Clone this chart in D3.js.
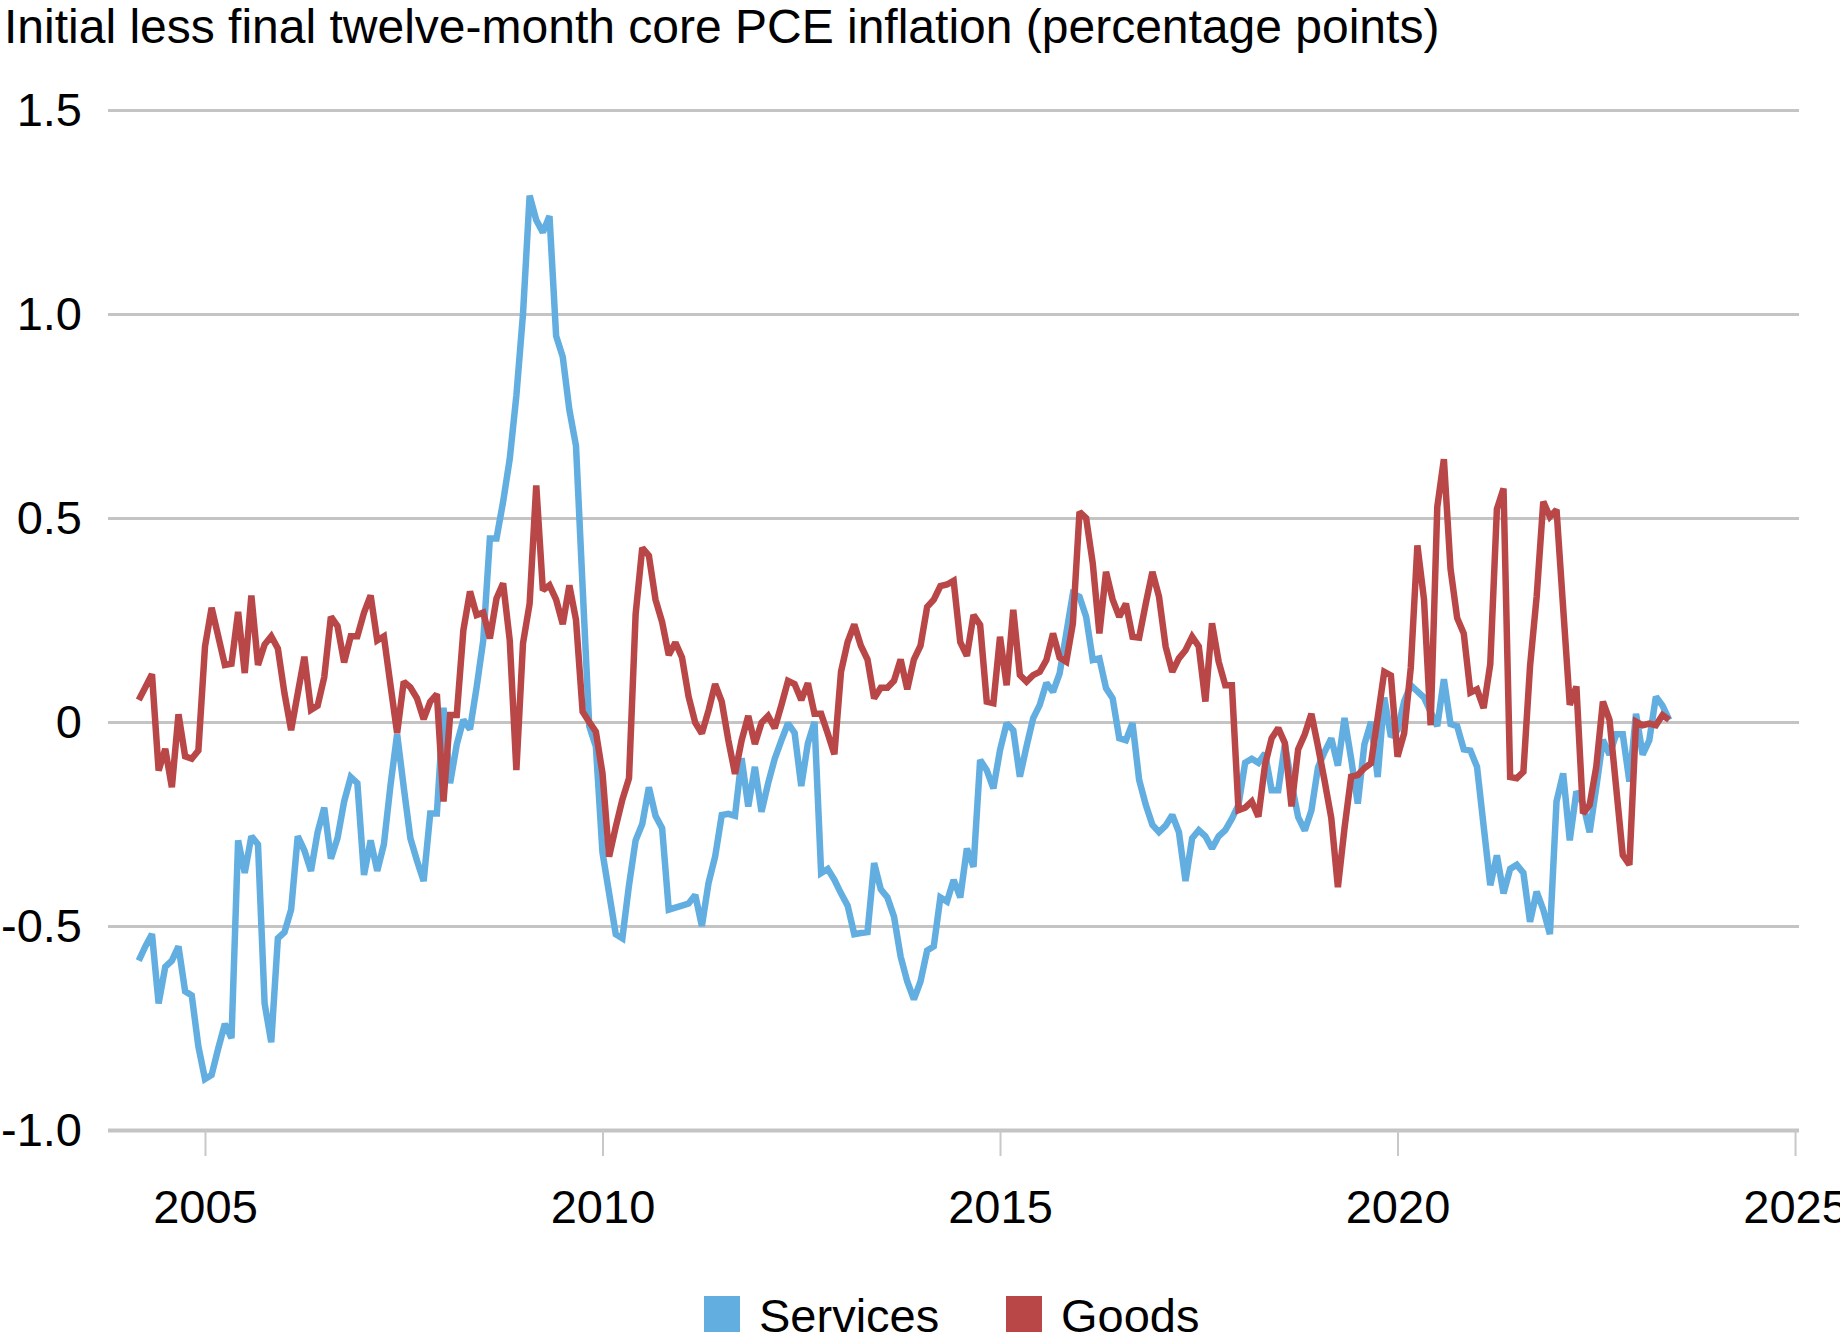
<!DOCTYPE html>
<html>
<head>
<meta charset="utf-8">
<script src="https://cdn.jsdelivr.net/npm/d3@7"></script>
<style>
  body { margin: 0; background: #fff; }
  svg { display: block; font-family: "Liberation Sans", Arial, sans-serif; }
</style>
</head>
<body>
<div id="chart"></div>
<script>
// monthly observations, first one is March 2004
const startYear = 2004;
const startMonth = 3;

const services = [
  -0.585, -0.55, -0.52, -0.69, -0.60, -0.585, -0.55, -0.66, -0.67, -0.795, -0.875, -0.865,
  -0.80, -0.74, -0.775, -0.29, -0.37, -0.28, -0.30, -0.69, -0.785, -0.53, -0.515, -0.46,
  -0.28, -0.315, -0.365, -0.27, -0.21, -0.335, -0.285, -0.195, -0.135, -0.15, -0.375, -0.29,
  -0.365, -0.30, -0.155, -0.03, -0.16, -0.285, -0.34, -0.39, -0.224, -0.224, 0.035, -0.15,
  -0.055, 0.005, -0.018, 0.085, 0.20, 0.45, 0.45, 0.54, 0.645, 0.80, 1.0, 1.29,
  1.23, 1.20, 1.24, 0.946, 0.895, 0.765, 0.677, 0.33, -0.01, -0.06, -0.32, -0.42,
  -0.52, -0.53, -0.40, -0.29, -0.25, -0.16, -0.23, -0.26, -0.46, -0.455, -0.45, -0.445,
  -0.424, -0.50, -0.395, -0.33, -0.228, -0.225, -0.23, -0.089, -0.207, -0.11, -0.22, -0.15,
  -0.09, -0.045, -0.003, -0.027, -0.157, -0.052, 0.0, -0.37, -0.36, -0.387, -0.42, -0.45,
  -0.52, -0.517, -0.515, -0.346, -0.41, -0.43, -0.477, -0.575, -0.636, -0.68, -0.636, -0.56,
  -0.55, -0.43, -0.44, -0.387, -0.43, -0.31, -0.355, -0.093, -0.118, -0.163, -0.069, -0.003,
  -0.02, -0.134, -0.06, 0.009, 0.042, 0.096, 0.074, 0.119, 0.217, 0.315, 0.307, 0.258,
  0.152, 0.156, 0.083, 0.058, -0.04, -0.045, -0.003, -0.142, -0.203, -0.252, -0.27, -0.254,
  -0.228, -0.27, -0.39, -0.285, -0.265, -0.28, -0.31, -0.28, -0.265, -0.237, -0.203, -0.10,
  -0.09, -0.10, -0.077, -0.167, -0.167, -0.055, -0.15, -0.233, -0.266, -0.217, -0.111, -0.073,
  -0.04, -0.107, 0.01, -0.09, -0.2, -0.055, 0.0, -0.135, 0.06, -0.036, -0.02, 0.05,
  0.09, 0.075, 0.06, 0.025, -0.01, 0.105, -0.005, -0.01, -0.067, -0.07, -0.11, -0.255,
  -0.40, -0.327, -0.42, -0.36, -0.35, -0.37, -0.49, -0.416, -0.46, -0.52, -0.195, -0.126,
  -0.29, -0.17, -0.20, -0.27, -0.16, -0.044, -0.08, -0.03, -0.03, -0.146, 0.02, -0.08,
  -0.045, 0.062, 0.04, 0.005
];

const goods = [
  0.054, 0.085, 0.117, -0.119, -0.066, -0.16, 0.019, -0.084, -0.09, -0.07, 0.185, 0.28,
  0.21, 0.14, 0.143, 0.27, 0.12, 0.31, 0.14, 0.19, 0.21, 0.18, 0.07, -0.02,
  0.07, 0.16, 0.03, 0.04, 0.11, 0.258, 0.235, 0.146, 0.21, 0.21, 0.268, 0.31,
  0.2, 0.21, 0.09, -0.027, 0.099, 0.085, 0.058, 0.007, 0.05, 0.068, -0.195, 0.017,
  0.017, 0.225, 0.32, 0.262, 0.268, 0.205, 0.303, 0.34, 0.20, -0.118, 0.193, 0.29,
  0.58, 0.323, 0.335, 0.30, 0.24, 0.335, 0.25, 0.025, 0.0, -0.024, -0.126, -0.33,
  -0.257, -0.19, -0.138, 0.264, 0.427, 0.408, 0.30, 0.245, 0.164, 0.195, 0.158, 0.062,
  -0.002, -0.028, 0.028, 0.093, 0.05, -0.045, -0.127, -0.045, 0.015, -0.054, -0.002, 0.015,
  -0.015, 0.041, 0.101, 0.093, 0.054, 0.095, 0.02, 0.02, -0.028, -0.079, 0.123, 0.196,
  0.239, 0.187, 0.153, 0.058, 0.084, 0.084, 0.101, 0.153, 0.08, 0.153, 0.187, 0.282,
  0.30, 0.333, 0.337, 0.346, 0.196, 0.162, 0.262, 0.238, 0.05, 0.046, 0.209, 0.09,
  0.275, 0.115, 0.099, 0.115, 0.123, 0.152, 0.217, 0.158, 0.148, 0.242, 0.515, 0.50,
  0.389, 0.217, 0.368, 0.30, 0.258, 0.29, 0.209, 0.207, 0.29, 0.368, 0.307, 0.185,
  0.123, 0.156, 0.176, 0.209, 0.185, 0.05, 0.242, 0.148, 0.09, 0.09, -0.216, -0.21,
  -0.195, -0.232, -0.105, -0.04, -0.015, -0.052, -0.207, -0.067, -0.03, 0.02, -0.06, -0.145,
  -0.235, -0.405, -0.26, -0.134, -0.13, -0.113, -0.101, 0.01, 0.123, 0.114, -0.085, -0.028,
  0.133, 0.433, 0.30, -0.008, 0.527, 0.644, 0.376, 0.255, 0.217, 0.072, 0.08, 0.034,
  0.142, 0.522, 0.572, -0.135, -0.138, -0.122, 0.136, 0.307, 0.54, 0.503, 0.52, 0.28,
  0.042, 0.087, -0.224, -0.203, -0.11, 0.05, 0.005, -0.16, -0.326, -0.35, 0.001, -0.008,
  -0.004, -0.008, 0.017, 0.005
];

const xTicks = [2005, 2010, 2015, 2020, 2025];
const yTicks = [-1.0, -0.5, 0, 0.5, 1.0, 1.5];
const yTickLabels = ["-1.0", "-0.5", "0", "0.5", "1.0", "1.5"];
const seriesNames = ["Services", "Goods"];
const seriesColors = ["#62aee0", "#b94747"];
const title = "Initial less final twelve-month core PCE inflation (percentage points)";

const W = 1840, H = 1340;
const margin = { top: 110, right: 41, bottom: 210, left: 108 };
const fontSize = 47;

const svg = d3.select("#chart")
  .append("svg")
  .attr("width", W)
  .attr("height", H)
  .attr("viewBox", `0 0 ${W} ${H}`);

const x = d3.scaleLinear()
  .domain([2003.78, 2025.05])
  .range([margin.left, W - margin.right]);

const y = d3.scaleLinear()
  .domain([-1, 1.5])
  .range([H - margin.bottom, margin.top]);

const plotW = W - margin.left - margin.right;

// title
svg.append("text")
  .attr("x", 4)
  .attr("y", 43)
  .attr("font-size", 48)
  .attr("fill", "#000")
  .text(title);

// y axis with gridlines
const yAxis = svg.append("g")
  .attr("transform", `translate(${margin.left},0)`)
  .call(d3.axisLeft(y)
    .tickValues(yTicks)
    .tickFormat((d, i) => yTickLabels[i])
    .tickSize(-plotW)
    .tickPadding(26));

yAxis.select(".domain").remove();
yAxis.selectAll(".tick line")
  .attr("stroke", "#c4c4c4")
  .attr("stroke-width", d => d === -1 ? 4 : 3);
yAxis.selectAll(".tick text")
  .attr("font-size", fontSize)
  .attr("font-family", "Liberation Sans, Arial, sans-serif")
  .attr("fill", "#000");

// x axis
const xAxis = svg.append("g")
  .attr("transform", `translate(0,${y(-1)})`)
  .call(d3.axisBottom(x)
    .tickValues(xTicks)
    .tickFormat(d3.format("d"))
    .tickSize(26)
    .tickPadding(34));

xAxis.select(".domain").remove();
xAxis.selectAll(".tick line")
  .attr("stroke", "#c8c8c8")
  .attr("stroke-width", 2);
xAxis.selectAll(".tick text")
  .attr("font-size", fontSize)
  .attr("font-family", "Liberation Sans, Arial, sans-serif")
  .attr("fill", "#000");

// lines
const monthTime = i => startYear + (startMonth - 1 + i) / 12;
const line = d3.line()
  .x((d, i) => x(monthTime(i)))
  .y(d => y(d));

[services, goods].forEach((values, k) => {
  svg.append("path")
    .datum(values)
    .attr("fill", "none")
    .attr("stroke", seriesColors[k])
    .attr("stroke-width", 6.5)
    .attr("stroke-linejoin", "miter")
    .attr("stroke-miterlimit", 2)
    .attr("d", line);
});

// legend
const legendPos = [704, 1006];
const legend = svg.append("g")
  .selectAll("g")
  .data(seriesNames)
  .join("g")
  .attr("transform", (d, i) => `translate(${legendPos[i]},1296)`);

legend.append("rect")
  .attr("width", 36)
  .attr("height", 36)
  .attr("fill", (d, i) => seriesColors[i]);

legend.append("text")
  .attr("x", 55)
  .attr("y", 36)
  .attr("font-size", fontSize)
  .attr("fill", "#000")
  .text(d => d);
</script>
</body>
</html>
